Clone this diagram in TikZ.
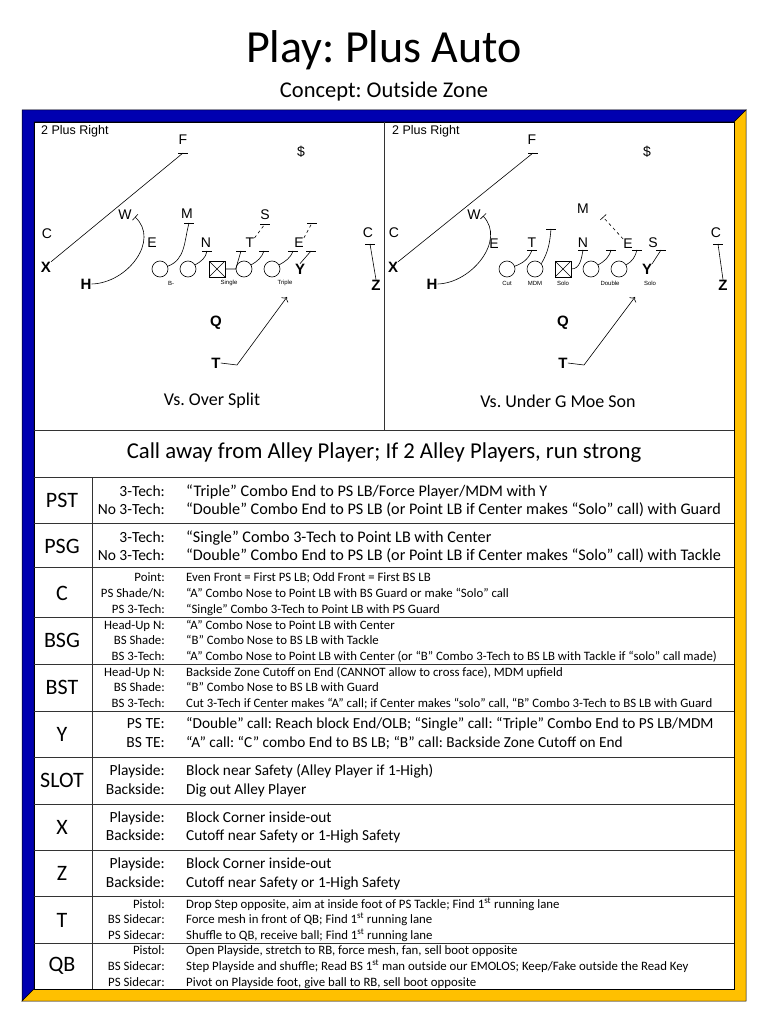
\documentclass[tikz,border=0pt]{standalone}
\usepackage{fontspec}
\setmainfont{Carlito}
\newfontfamily\arialfont{Liberation Sans}
\usetikzlibrary{positioning,calc,arrows.meta}
\definecolor{frameblue}{RGB}{0,0,176}
\definecolor{framegold}{RGB}{255,192,0}
\newcommand\blockmark[1]{\draw[block] (#1) ++(-5,0) -- ++(10,0);}

\begin{document}
\frenchspacing
\begin{tikzpicture}[
    x=1pt, y=-1pt,
    formation/.style = {anchor=west, inner sep=0pt, font=\arialfont\fontsize{12.5}{13}\selectfont},
    player/.style = {inner sep=0pt, font=\arialfont\fontsize{14}{14}\selectfont},
    skill/.style = {inner sep=0pt, font=\arialfont\bfseries\fontsize{15}{15}\selectfont},
    lineman/.style = {circle, draw, line width=0.6pt, minimum size=16pt, inner sep=0pt},
    snap/.style = {draw, line width=0.6pt, minimum size=16pt, inner sep=0pt,
      path picture={\draw (path picture bounding box.south west) -- (path picture bounding box.north east)
        (path picture bounding box.north west) -- (path picture bounding box.south east);}},
    calltag/.style = {inner sep=0pt, font=\arialfont\fontsize{6}{6}\selectfont},
    block/.style = {line width=0.6pt},
    hold/.style = {line width=0.6pt, -{Bar[width=8pt]}},
    route/.style = {line width=0.6pt, -{To[length=4pt]}},
    frontname/.style = {font=\fontsize{18}{18}\selectfont},
    tableline/.style = {line width=0.8pt, draw=black!80},
    rowname/.style = {font=\fontsize{22}{22}\selectfont},
    cue/.style = {anchor=east, inner sep=0pt, text height=11.5pt, text depth=1.5pt, font=\fontsize{15.5}{16}\selectfont},
    job/.style = {anchor=west, inner sep=0pt, text height=11.5pt, text depth=1.5pt, font=\fontsize{15.3}{16}\selectfont},
    widejob/.style = {job, font=\fontsize{16.2}{17}\selectfont},
    smallcue/.style = {anchor=east, inner sep=0pt, text height=9.5pt, text depth=1.5pt, font=\fontsize{12.8}{13}\selectfont},
    smalljob/.style = {anchor=west, inner sep=0pt, text height=9.5pt, text depth=1.5pt, font=\fontsize{12.8}{13}\selectfont}
    ]
    \useasboundingbox[fill=white] (0,0) rectangle (768,1024);

    % heading
    \node[font=\fontsize{46}{46}\selectfont] (play) at (384,50) {Play: Plus Auto};
    \node[font=\fontsize{22.5}{23}\selectfont] (concept) at (384,92) {Concept: Outside Zone};

    % bevel frame
    \filldraw[fill=frameblue, draw=black, line width=0.5pt] (22,110) -- (746,110) -- (734,122) -- (34,122) -- (34,989) -- (22,1001) -- cycle;
    \filldraw[fill=framegold, draw=black, line width=0.5pt] (746,110) -- (746,1001) -- (22,1001) -- (34,989) -- (734,989) -- (734,122) -- cycle;
    \filldraw[fill=white, draw=black, line width=0.5pt] (34,122) rectangle (734,989);

    % table rules
    \draw[tableline] (384,122) -- (384,430);
    \draw[tableline] (34,430) -- (734,430);
    \draw[tableline] (34,477) -- (734,477);
    \draw[tableline] (34,523) -- (734,523);
    \draw[tableline] (34,567) -- (734,567);
    \draw[tableline] (34,617) -- (734,617);
    \draw[tableline] (34,664) -- (734,664);
    \draw[tableline] (34,711) -- (734,711);
    \draw[tableline] (34,757) -- (734,757);
    \draw[tableline] (34,804) -- (734,804);
    \draw[tableline] (34,850) -- (734,850);
    \draw[tableline] (34,896) -- (734,896);
    \draw[tableline] (34,943) -- (734,943);
    \draw[tableline] (92,477) -- (92,989);

    % left diagram: vs. over
    \node[formation] (l-set) at (41,131) {2 Plus Right};
    \node[player] (l-f) at (183,140) {F};
    \coordinate (l-f-mark) at (183,153);
    \node[player] (l-dollar) at (301,152) {\$};
    \node[player] (l-cb) at (47,234) {C};
    \node[skill] (l-x) at (46,267) {X};
    \node[player] (l-w) at (125,215) {W};
    \coordinate (l-w-mark) at (135,217);
    \node[skill] (l-h) at (86,284) {H};
    \node[player] (l-e) at (152,243) {E};
    \node[player] (l-m) at (187,214) {M};
    \coordinate (l-m-mark) at (189,223);
    \node[player] (l-n) at (206,243) {N};
    \coordinate (l-n-mark) at (207,251);
    \node[player] (l-t) at (250,243) {T};
    \coordinate (l-c-mark) at (241,251);
    \coordinate (l-g-mark) at (264,251);
    \node[player] (l-s) at (265,215) {S};
    \coordinate (l-s-mark) at (265,224);
    \node[player] (l-end) at (299,243) {E};
    \coordinate (l-end-mark) at (312,223);
    \coordinate (l-pst-mark) at (293,251);
    \coordinate (l-y-mark) at (311,251);
    \node[lineman] (l-bst) at (160,269) {};
    \node[lineman] (l-bsg) at (188,269) {};
    \node[snap] (l-ctr) at (217,269) {};
    \node[lineman] (l-psg) at (244,269) {};
    \node[lineman] (l-pst) at (272,269) {};
    \node[skill] (l-y) at (300,269) {Y};
    \node[player] (l-cs) at (368,233) {C};
    \coordinate (l-cs-mark) at (370,244);
    \node[skill] (l-z) at (376,285) {Z};
    \node[calltag] (l-tag1) at (171,283) {B-};
    \node[calltag] (l-tag2) at (229,283) {Single};
    \node[calltag] (l-tag3) at (285,283) {Triple};
    \node[skill] (l-q) at (216,323) {Q};
    \node[skill] (l-tb) at (216,363) {T};
    \coordinate (l-tb-turn) at (237,365);
    \coordinate (l-tb-aim) at (287,297);
    \node[frontname] (l-front) at (212,401) {Vs. Over Split};

    \draw[block] (l-x.north east) -- (l-f-mark); \blockmark{l-f-mark}
    \draw[hold] (l-h.east) .. controls (128,283) and (160,240) .. (l-w-mark);
    \draw[block] (l-bst.20) to[out=20,in=-105] (l-m-mark); \blockmark{l-m-mark}
    \draw[block] (l-bsg.30) to[out=30,in=-100] (l-n-mark); \blockmark{l-n-mark}
    \draw[block] (l-ctr.east) -- (l-psg.west) -- (l-c-mark); \blockmark{l-c-mark}
    \draw[block] (l-psg.30) to[out=30,in=-110] (l-g-mark); \blockmark{l-g-mark}
    \draw[block] (l-pst.30) to[out=30,in=-110] (l-pst-mark); \blockmark{l-pst-mark}
    \draw[block] (l-y.north) -- (l-y-mark); \blockmark{l-y-mark}
    \draw[block,dashed] (l-t.north east) -- (l-s-mark); \blockmark{l-s-mark}
    \draw[block,dashed] (l-end.north east) -- (l-end-mark); \blockmark{l-end-mark}
    \draw[block] (l-z.north) -- (l-cs-mark); \blockmark{l-cs-mark}
    \draw[route] (l-tb.east) -- (l-tb-turn) -- (l-tb-aim);

    % right diagram: vs. under G moe son
    \node[formation] (r-set) at (392,131) {2 Plus Right};
    \node[player] (r-f) at (532,140) {F};
    \coordinate (r-f-mark) at (533,153);
    \node[player] (r-dollar) at (647,152) {\$};
    \node[player] (r-cb) at (394,233) {C};
    \node[skill] (r-x) at (393,267) {X};
    \node[player] (r-w) at (474,215) {W};
    \coordinate (r-w-mark) at (483,216);
    \node[skill] (r-h) at (432,284) {H};
    \node[player] (r-e) at (494,244) {E};
    \node[player] (r-t) at (532,243) {T};
    \coordinate (r-t-mark) at (532,250);
    \coordinate (r-mdm-mark) at (551,229);
    \node[player] (r-m) at (583,209) {M};
    \coordinate (r-m-mark) at (603,217);
    \node[player] (r-n) at (583,243) {N};
    \coordinate (r-n-mark) at (583,250);
    \coordinate (r-psg-mark) at (611,250);
    \node[player] (r-end) at (628,244) {E};
    \coordinate (r-pst-mark) at (637,250);
    \node[player] (r-s) at (653,243) {S};
    \coordinate (r-s-mark) at (661,250);
    \node[lineman] (r-bst) at (507,269) {};
    \node[lineman] (r-bsg) at (535,269) {};
    \node[snap] (r-ctr) at (563,269) {};
    \node[lineman] (r-psg) at (591,269) {};
    \node[lineman] (r-pst) at (619,269) {};
    \node[skill] (r-y) at (647,269) {Y};
    \node[player] (r-cs) at (716,233) {C};
    \coordinate (r-cs-mark) at (718,244);
    \node[skill] (r-z) at (723,285) {Z};
    \node[calltag] (r-tag1) at (507,283) {Cut};
    \node[calltag] (r-tag2) at (535,283) {MDM};
    \node[calltag] (r-tag3) at (563,283) {Solo};
    \node[calltag] (r-tag4) at (610,283) {Double};
    \node[calltag] (r-tag5) at (650,283) {Solo};
    \node[skill] (r-q) at (563,323) {Q};
    \node[skill] (r-tb) at (563,363) {T};
    \coordinate (r-tb-turn) at (584,365);
    \coordinate (r-tb-aim) at (635,297);
    \node[frontname] (r-front) at (558,401) {Vs. Under G Moe Son};

    \draw[block] (r-x.north east) -- (r-f-mark); \blockmark{r-f-mark}
    \draw[hold] (r-h.east) .. controls (472,283) and (506,240) .. (r-w-mark);
    \draw[block] (r-bst.20) to[out=20,in=-110] (r-t-mark); \blockmark{r-t-mark}
    \draw[block] (r-bsg.40) to[out=60,in=-95] (r-mdm-mark); \blockmark{r-mdm-mark}
    \draw[block] (r-ctr.east) to[out=0,in=-100] (r-n-mark); \blockmark{r-n-mark}
    \draw[block] (r-psg.30) to[out=30,in=-105] (r-psg-mark); \blockmark{r-psg-mark}
    \draw[block] (r-pst.30) to[out=30,in=-105] (r-pst-mark); \blockmark{r-pst-mark}
    \draw[block] (r-y.north east) -- (r-s-mark); \blockmark{r-s-mark}
    \draw[hold,dashed] (r-end.north west) -- (r-m-mark);
    \draw[block] (r-z.north) -- (r-cs-mark); \blockmark{r-cs-mark}
    \draw[route] (r-tb.east) -- (r-tb-turn) -- (r-tb-aim);

    % rules by position
    \node[font=\fontsize{22.7}{23}\selectfont] (alley) at (384,453) {Call away from Alley Player; If 2 Alley Players, run strong};

    \node[rowname] (pst) at (62,500) {PST};
    \node[cue] (pst-s1) at (165,491) {3-Tech:};
    \node[widejob] (pst-r1) at (186,491) {“Triple” Combo End to PS LB/Force Player/MDM with Y};
    \node[cue] (pst-s2) at (165,509) {No 3-Tech:};
    \node[widejob] (pst-r2) at (186,509) {“Double” Combo End to PS LB (or Point LB if Center makes “Solo” call) with Guard};

    \node[rowname] (psg) at (62,546) {PSG};
    \node[cue] (psg-s1) at (165,537) {3-Tech:};
    \node[widejob] (psg-r1) at (186,537) {“Single” Combo 3-Tech to Point LB with Center};
    \node[cue] (psg-s2) at (165,555) {No 3-Tech:};
    \node[widejob] (psg-r2) at (186,555) {“Double” Combo End to PS LB (or Point LB if Center makes “Solo” call) with Tackle};

    \node[rowname] (c) at (62,593) {C};
    \node[smallcue] (c-s1) at (165,577) {Point:};
    \node[smalljob] (c-r1) at (186,577) {Even Front = First PS LB; Odd Front = First BS LB};
    \node[smallcue] (c-s2) at (165,593) {PS Shade/N:};
    \node[smalljob] (c-r2) at (186,593) {“A” Combo Nose to Point LB with BS Guard or make “Solo” call};
    \node[smallcue] (c-s3) at (165,609) {PS 3-Tech:};
    \node[smalljob] (c-r3) at (186,609) {“Single” Combo 3-Tech to Point LB with PS Guard};

    \node[rowname] (bsg) at (62,640) {BSG};
    \node[smallcue] (bsg-s1) at (165,625) {Head-Up N:};
    \node[smalljob] (bsg-r1) at (186,625) {“A” Combo Nose to Point LB with Center};
    \node[smallcue] (bsg-s2) at (165,640) {BS Shade:};
    \node[smalljob] (bsg-r2) at (186,640) {“B” Combo Nose to BS LB with Tackle};
    \node[smallcue] (bsg-s3) at (165,656) {BS 3-Tech:};
    \node[smalljob] (bsg-r3) at (186,656) {“A” Combo Nose to Point LB with Center (or “B” Combo 3-Tech to BS LB with Tackle if “solo” call made)};

    \node[rowname] (bst) at (62,687) {BST};
    \node[smallcue] (bst-s1) at (165,672) {Head-Up N:};
    \node[smalljob] (bst-r1) at (186,672) {Backside Zone Cutoff on End (CANNOT allow to cross face), MDM upfield};
    \node[smallcue] (bst-s2) at (165,687) {BS Shade:};
    \node[smalljob] (bst-r2) at (186,687) {“B” Combo Nose to BS LB with Guard};
    \node[smallcue] (bst-s3) at (165,703) {BS 3-Tech:};
    \node[smalljob] (bst-r3) at (186,703) {Cut 3-Tech if Center makes “A” call; if Center makes “solo” call, “B” Combo 3-Tech to BS LB with Guard};

    \node[rowname] (y) at (62,734) {Y};
    \node[cue] (y-s1) at (165,723) {PS TE:};
    \node[job] (y-r1) at (186,723) {“Double” call: Reach block End/OLB; “Single” call: “Triple” Combo End to PS LB/MDM};
    \node[cue] (y-s2) at (165,742) {BS TE:};
    \node[job] (y-r2) at (186,742) {“A” call: “C” combo End to BS LB; “B” call: Backside Zone Cutoff on End};

    \node[rowname] (slot) at (62,780) {SLOT};
    \node[cue] (slot-s1) at (165,770) {Playside:};
    \node[job] (slot-r1) at (186,770) {Block near Safety (Alley Player if 1-High)};
    \node[cue] (slot-s2) at (165,789) {Backside:};
    \node[job] (slot-r2) at (186,789) {Dig out Alley Player};

    \node[rowname] (x) at (62,827) {X};
    \node[cue] (x-s1) at (165,817) {Playside:};
    \node[job] (x-r1) at (186,817) {Block Corner inside-out};
    \node[cue] (x-s2) at (165,835) {Backside:};
    \node[job] (x-r2) at (186,835) {Cutoff near Safety or 1-High Safety};

    \node[rowname] (z) at (62,873) {Z};
    \node[cue] (z-s1) at (165,863) {Playside:};
    \node[job] (z-r1) at (186,863) {Block Corner inside-out};
    \node[cue] (z-s2) at (165,882) {Backside:};
    \node[job] (z-r2) at (186,882) {Cutoff near Safety or 1-High Safety};

    \node[rowname] (t) at (62,920) {T};
    \node[smallcue] (t-s1) at (165,904) {Pistol:};
    \node[smalljob] (t-r1) at (186,904) {Drop Step opposite, aim at inside foot of PS Tackle; Find 1\textsuperscript{st} running lane};
    \node[smallcue] (t-s2) at (165,919) {BS Sidecar:};
    \node[smalljob] (t-r2) at (186,919) {Force mesh in front of QB; Find 1\textsuperscript{st} running lane};
    \node[smallcue] (t-s3) at (165,935) {PS Sidecar:};
    \node[smalljob] (t-r3) at (186,935) {Shuffle to QB, receive ball; Find 1\textsuperscript{st} running lane};

    \node[rowname] (qb) at (62,966) {QB};
    \node[smallcue] (qb-s1) at (165,950) {Pistol:};
    \node[smalljob] (qb-r1) at (186,950) {Open Playside, stretch to RB, force mesh, fan, sell boot opposite};
    \node[smallcue] (qb-s2) at (165,966) {BS Sidecar:};
    \node[smalljob] (qb-r2) at (186,966) {Step Playside and shuffle; Read BS 1\textsuperscript{st} man outside our EMOLOS; Keep/Fake outside the Read Key};
    \node[smallcue] (qb-s3) at (165,982) {PS Sidecar:};
    \node[smalljob] (qb-r3) at (186,982) {Pivot on Playside foot, give ball to RB, sell boot opposite};
\end{tikzpicture}
\end{document}
